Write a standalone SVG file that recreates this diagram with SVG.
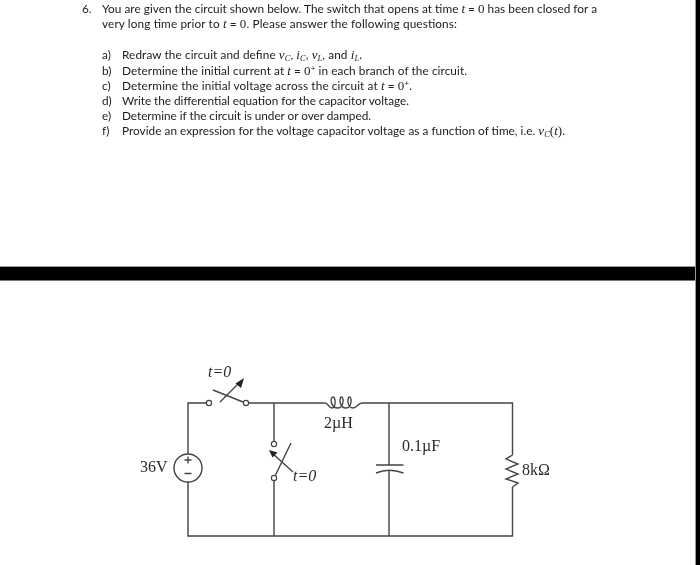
<svg xmlns="http://www.w3.org/2000/svg" width="700" height="565" viewBox="0 0 700 565">
<style>
.q{font-family:Lato,"Liberation Sans",sans-serif;font-size:11.8px;fill:#1c1c1c}
.m{font-family:"Liberation Serif",serif;font-style:italic;font-size:13px}
.n{font-family:"Liberation Serif",serif;font-size:13px}
.s{font-size:8.500px;font-family:"Liberation Serif",serif;font-style:italic}
.c{font-family:"Liberation Serif",serif;font-size:16px;fill:#2a2a2a}
.i{font-style:italic;font-size:16px}
.w{fill:none;stroke:#444;stroke-width:1.4}
.t{fill:#fff;stroke:#444;stroke-width:1.2}
.h{fill:#222}
</style>
<defs><filter id="b" x="-5%" y="-5%" width="110%" height="110%"><feGaussianBlur stdDeviation="0.3"/></filter></defs>
<rect width="700" height="565" fill="#fff"/>
<g id="question" filter="url(#b)">
<text class="q" x="82" y="13">6.</text>
<text class="q" x="102" y="13" textLength="495" lengthAdjust="spacing">You are given the circuit shown below.  The switch that opens at time <tspan class="m">t</tspan> = <tspan class="n">0</tspan> has been closed for a</text>
<text class="q" x="102" y="28" textLength="355" lengthAdjust="spacing">very long time prior to <tspan class="m">t</tspan> = <tspan class="n">0</tspan>.  Please answer the following questions:</text>
<text class="q" x="102" y="58.500">a)</text>
<text class="q" x="122" y="58.500" textLength="240" lengthAdjust="spacing">Redraw the circuit and define <tspan class="m">v</tspan><tspan class="s" dy="2">C</tspan><tspan dy="-2">, </tspan><tspan class="m">i</tspan><tspan class="s" dy="2">C</tspan><tspan dy="-2">, </tspan><tspan class="m">v</tspan><tspan class="s" dy="2">L</tspan><tspan dy="-2">, and </tspan><tspan class="m">i</tspan><tspan class="s" dy="2">L</tspan><tspan dy="-2">.</tspan></text>
<text class="q" x="102" y="74.500">b)</text>
<text class="q" x="122" y="74.500" textLength="345" lengthAdjust="spacing">Determine the initial current at <tspan class="m">t</tspan> = <tspan class="n">0</tspan><tspan font-size="8" dy="-4">+</tspan><tspan dy="4"> in each branch of the circuit.</tspan></text>
<text class="q" x="102" y="89.500">c)</text>
<text class="q" x="122" y="89.500" textLength="290" lengthAdjust="spacing">Determine the initial voltage across the circuit at <tspan class="m">t</tspan> = <tspan class="n">0</tspan><tspan font-size="8" dy="-4">+</tspan><tspan dy="4">.</tspan></text>
<text class="q" x="102" y="104.500">d)</text>
<text class="q" x="122" y="104.500" textLength="287" lengthAdjust="spacing">Write the differential equation for the capacitor voltage.</text>
<text class="q" x="102" y="119.500">e)</text>
<text class="q" x="122" y="119.500" textLength="249" lengthAdjust="spacing">Determine if the circuit is under or over damped.</text>
<text class="q" x="102" y="134.500">f)</text>
<text class="q" x="122" y="134.500" textLength="443" lengthAdjust="spacing">Provide an expression for the voltage capacitor voltage as a function of time, i.e. <tspan class="m">v</tspan><tspan class="s" dy="2">C</tspan><tspan class="n" dy="-2">(</tspan><tspan class="m">t</tspan><tspan class="n">)</tspan>.</text>
</g>
<g id="divider">
<rect x="0" y="266" width="696" height="1" fill="#999"/>
<rect x="0" y="267" width="700" height="13" fill="#000"/>
<rect x="0" y="280" width="696" height="1" fill="#777"/>
<rect x="695" y="0" width="1" height="565" fill="#999"/>
<rect x="696" y="0" width="4" height="565" fill="#000"/>
</g>
<g id="connectors" filter="url(#b)">
<path class="w" d="M207 403H188V454M188 482V536H512.500V487M512.500 455V403H362"/>
<path class="w" d="M249 403H325"/>
<path class="w" d="M274 403V441M274 481V536"/>
<path class="w" d="M389 403V465M389 470V536"/>
</g>
<g id="switch-series" filter="url(#b)">
<circle class="t" cx="209" cy="403" r="2.600"/>
<circle class="t" cx="246" cy="403" r="2.600"/>
<path class="w" d="M213 390L243 402M220 402L240 382"/>
<path class="h" d="M244 378L235.500 383.500L241 388Z"/>
<text class="c i" x="208" y="377">t=0</text>
</g>
<g id="switch-shunt" filter="url(#b)">
<circle class="t" cx="274" cy="444" r="2.600"/>
<circle class="t" cx="274" cy="478" r="2.600"/>
<path class="w" d="M291 443L275.500 475M272 453L293 472"/>
<path class="h" d="M269 450L277.500 452.500L272.500 457.500Z"/>
<text class="c i" x="293" y="481">t=0</text>
</g>
<g id="source" filter="url(#b)">
<circle class="w" cx="188" cy="468" r="14"/>
<path class="w" d="M184.500 460H191.500M188 456.500V463.500M184.500 473.500H191.500"/>
<text class="c" x="140" y="472">36V</text>
</g>
<g id="inductor" filter="url(#b)">
<path class="w" d="M325 403C328 403 329 408 332 408C336 408 336 397 333 397C330 397 330 408 338 408C344 408 344 397 341.500 397C339 397 339 408 346 408C352 408 352 397 349.500 397C347 397 347 408 353 408C357 408 358 403 362 403"/>
<text class="c" x="324" y="428">2µH</text>
</g>
<g id="capacitor" filter="url(#b)">
<path class="w" d="M376 465H403.500M376 473Q389 467.500 403.500 473"/>
<text class="c" x="402" y="451">0.1µF</text>
</g>
<g id="resistor" filter="url(#b)">
<path class="w" d="M512.500 455L506 459L518 464L506 469L518 474L506 479L518 483L512.500 487"/>
<text class="c" x="522" y="475">8kΩ</text>
</g>
</svg>
